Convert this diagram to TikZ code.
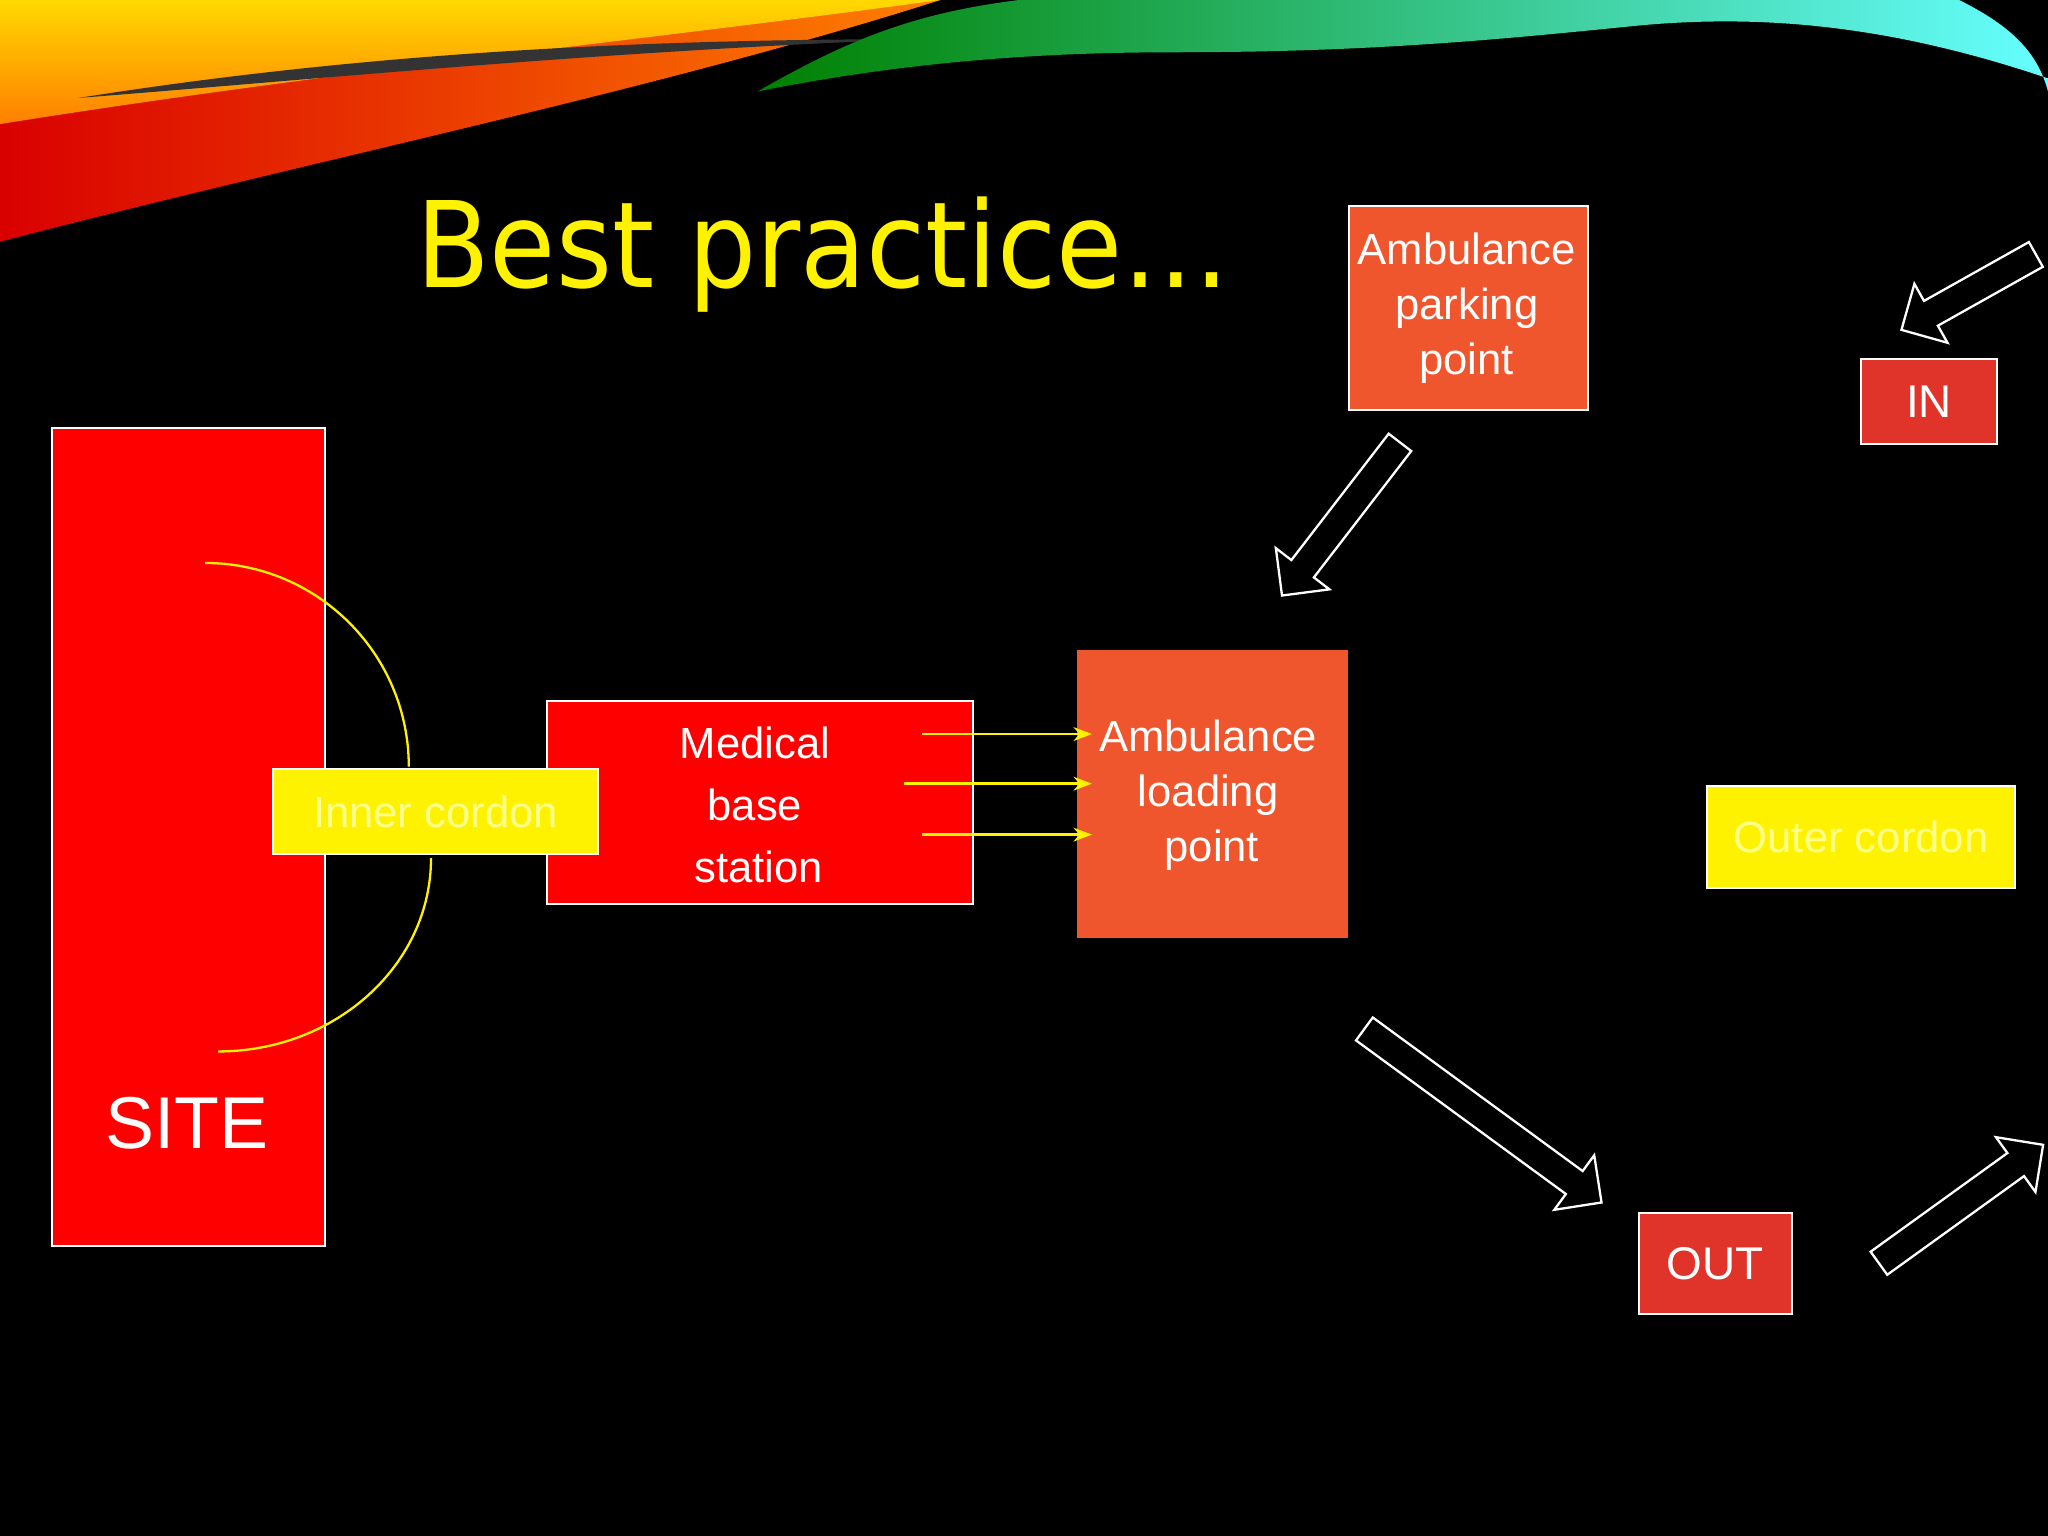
\documentclass[tikz,border=0pt]{standalone}
\usepackage{fontspec}
\setmainfont{Liberation Sans}
\newfontfamily\titlefont{DejaVu Sans Condensed}
\usetikzlibrary{shapes.arrows,arrows.meta}
\definecolor{orb}{HTML}{F0562E}
\definecolor{redb}{HTML}{FF0000}
\definecolor{inb}{HTML}{E0342A}
\definecolor{paley}{HTML}{FFFF8C}
\tikzset{
 box/.style={draw=white,line width=0.5pt,inner sep=0pt,anchor=north west,align=center,text=white,font=\fontsize{9pt}{12pt}\selectfont},
 ybox/.style={box,fill=yellow,text=paley},
 hollow/.style={single arrow,draw=white,fill=black,line width=0.5pt,minimum width=5mm,single arrow head extend=1.5mm,inner sep=1mm},
 yarr/.style={yellow,line width=0.6pt,-{Stealth[length=4pt,width=3pt]}}
}
\begin{document}
\begin{tikzpicture}[x=0.1mm,y=-0.1mm]
\fill[black] (0,0) rectangle (1568,1176);
\useasboundingbox (0,0) rectangle (1568,1176);
% banner
\shade[left color=red!85!black,right color=orange] (0,0) -- (720,0) .. controls (500,70) and (250,120) .. (0,185) -- cycle;
\shade[top color=yellow!70!orange,bottom color=orange] (0,0) -- (720,0) .. controls (500,30) and (250,55) .. (0,95) -- cycle;
\fill[black!80] (60,75) .. controls (250,45) and (450,30) .. (700,30) .. controls (450,40) and (250,60) .. (60,75) -- cycle;
\shade[left color=green!50!black,right color=cyan!60] (580,70) .. controls (650,30) and (700,10) .. (780,0) -- (1500,0) .. controls (1540,20) and (1560,40) .. (1568,70) -- (1568,60) .. controls (1450,20) and (1350,10) .. (1250,20) .. controls (1150,30) and (1050,40) .. (900,40) .. controls (780,40) and (680,50) .. (580,70) -- cycle;
% title
\node[font=\titlefont\fontsize{26pt}{30pt}\selectfont,text=yellow,anchor=base west,inner sep=0pt] (title) at (318,220) {Best practice\ldots};
% boxes
\node[box,fill=redb,minimum width=20.9mm,minimum height=62.6mm] (site) at (39,327) {};
\node[text=white,font=\fontsize{16pt}{18pt}\selectfont] (sitet) at (143,860) {SITE};
\node[box,fill=redb,minimum width=32.6mm,minimum height=15.5mm] (mbs) at (418,536) {};
\node[text=white,font=\fontsize{9.5pt}{13.5pt}\selectfont,align=center] (mbst) at (578,616) {Medical\\ base\\ \,station};
\node[box,fill=orb,draw=none,minimum width=20.7mm,minimum height=22mm] (alp) at (824,497) {};
\node[text=white,font=\fontsize{9.5pt}{12pt}\selectfont,align=center] (alpt) at (925,609) {Ambulance\\ loading\\ \,point};
\node[box,fill=orb,minimum width=18.3mm,minimum height=15.6mm] (app) at (1032,157) {};
\node[text=white,font=\fontsize{9.5pt}{12pt}\selectfont,align=center] (appt) at (1123,236) {Ambulance\\ parking\\ point};
\node[box,fill=inb,minimum width=10.4mm,minimum height=6.5mm,font=\fontsize{10pt}{12pt}\selectfont] (in) at (1424,274) {IN};
\node[box,fill=inb,minimum width=11.7mm,minimum height=7.7mm,font=\fontsize{10pt}{12pt}\selectfont] (out) at (1254,928) {OUT};
\node[ybox,minimum width=23.6mm,minimum height=7.8mm,font=\fontsize{9.5pt}{12pt}\selectfont] (oc) at (1306,601) {Outer cordon};
% arcs
\draw[yellow,line width=0.5pt] (157,431) arc[start angle=90,end angle=0,radius=15.6mm];
\draw[yellow,line width=0.5pt] (330,657) arc[start angle=0,end angle=-90,x radius=16.3mm,y radius=14.8mm];
\node[ybox,minimum width=24.9mm,minimum height=6.5mm,font=\fontsize{9.5pt}{12pt}\selectfont] (ic) at (208,588) {Inner cordon};
% yellow arrows
\coordinate (a1) at (706,562); \coordinate (b1) at (836,562);
\coordinate (a2) at (692,600); \coordinate (b2) at (836,600);
\coordinate (a3) at (706,639); \coordinate (b3) at (836,639);
\draw[yarr] (a1) -- (b1);
\draw[yarr] (a2) -- (b2);
\draw[yarr] (a3) -- (b3);
% hollow arrows
\node[hollow,minimum height=11.8mm,rotate=-150.7] (h1) at (1512,221) {};
\node[hollow,minimum height=14.8mm,rotate=-127.6] (h2) at (1030,393) {};
\node[hollow,minimum height=22.5mm,rotate=-36.2] (h3) at (1131,851) {};
\node[hollow,minimum height=15.5mm,rotate=35.8] (h4) at (1497,925) {};
\end{tikzpicture}
\end{document}
